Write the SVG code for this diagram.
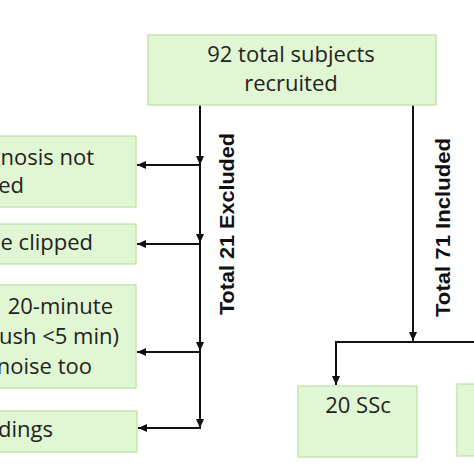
<svg xmlns="http://www.w3.org/2000/svg" width="474" height="474" viewBox="0 0 474 474">
<defs>
<style>
.box{fill:#e1f6d3;stroke:#c6e4b2;stroke-width:1.5}
.t{font-family:"Open Sans","Liberation Sans",sans-serif;font-size:22px;fill:#1e231e}
.lbl{font-family:"Liberation Sans",Arial,sans-serif;font-size:20.5px;font-weight:bold;fill:#111}
.c{fill:none;stroke:#111;stroke-width:2}
</style>
<marker id="ah" markerUnits="userSpaceOnUse" markerWidth="10" markerHeight="9" refX="9" refY="4" orient="auto">
<path d="M0,0 L9,4 L0,8 z" fill="#111"/>
</marker>
</defs>
<rect width="474" height="474" fill="#fff"/>
<g id="connectors">
<path class="c" d="M200,105 V165" marker-end="url(#ah)"/>
<path class="c" d="M200,165 V243" marker-end="url(#ah)"/>
<path class="c" d="M200,244 V351" marker-end="url(#ah)"/>
<path class="c" d="M200,352 V428" marker-end="url(#ah)"/>
<path class="c" d="M201,165 H137" marker-end="url(#ah)"/>
<path class="c" d="M201,244 H137" marker-end="url(#ah)"/>
<path class="c" d="M201,352 H137" marker-end="url(#ah)"/>
<path class="c" d="M201,428 H138" marker-end="url(#ah)"/>
<path class="c" d="M413,105 V341" marker-end="url(#ah)"/>
<path class="c" d="M480,342 H336 V385" marker-end="url(#ah)"/>
</g>
<g id="recruited">
<rect class="box" x="148" y="35" width="288" height="70"/>
<text class="t" x="291" y="62" text-anchor="middle">92 total subjects</text>
<text class="t" x="291" y="91" text-anchor="middle">recruited</text>
</g>
<g id="excl1">
<rect class="box" x="-10" y="136" width="146" height="71"/>
<text class="t" x="94" y="165" text-anchor="end">gnosis not</text>
<text class="t" x="24" y="193" text-anchor="end">ed</text>
</g>
<g id="excl2">
<rect class="box" x="-10" y="224" width="146" height="40"/>
<text class="t" x="93" y="250" text-anchor="end">e clipped</text>
</g>
<g id="excl3">
<rect class="box" x="-10" y="285" width="146" height="103"/>
<text class="t" x="113" y="314" text-anchor="end">20-minute</text>
<text class="t" x="119" y="344" text-anchor="end">ush &lt;5 min)</text>
<text class="t" x="92" y="374" text-anchor="end">noise too</text>
</g>
<g id="excl4">
<rect class="box" x="-10" y="411" width="147" height="41"/>
<text class="t" x="53" y="437" text-anchor="end">dings</text>
</g>
<g id="ssc">
<rect class="box" x="298" y="386" width="119" height="71"/>
<text class="t" x="358" y="413" text-anchor="middle">20 SSc</text>
</g>
<g id="other">
<rect class="box" x="457" y="384" width="30" height="72"/>
</g>
<g id="labels">
<text class="lbl" transform="translate(234,315) rotate(-90)" textLength="182" lengthAdjust="spacingAndGlyphs">Total 21 Excluded</text>
<text class="lbl" transform="translate(450,317) rotate(-90)" textLength="179" lengthAdjust="spacingAndGlyphs">Total 71 Included</text>
</g>
</svg>
